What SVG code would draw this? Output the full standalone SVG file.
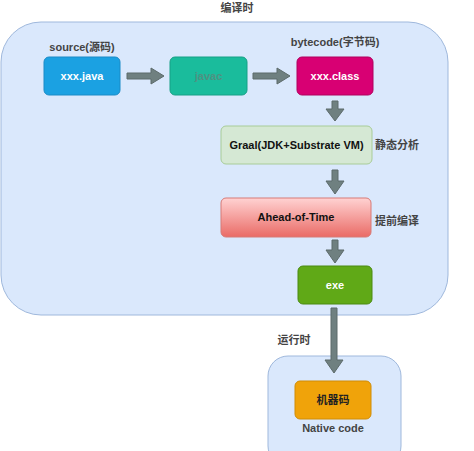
<svg xmlns="http://www.w3.org/2000/svg" width="474" height="451" viewBox="0 0 474 451">
<defs>
<linearGradient id="red" x1="0" y1="0" x2="0" y2="1">
<stop offset="0" stop-color="#ffd2d2"/>
<stop offset="1" stop-color="#ea6b66"/>
</linearGradient>
<style>
text{font-family:"Liberation Sans",Arial,"Noto Sans CJK SC",sans-serif;font-weight:bold;text-anchor:middle}
.lbl{font-size:11px;fill:#444}
.node{font-size:11px}
.arr{fill:#6f8080;stroke:#5d6b6b;stroke-width:1}
</style>
</defs>
<rect x="0" y="0" width="474" height="451" fill="#ffffff"/>
<g id="compile-container">
<rect x="1" y="22" width="447" height="293" rx="40" ry="40" fill="#dae8fc" stroke="#9fb8dc" stroke-width="1"/>
<text class="lbl" x="237" y="12">编译时</text>
</g>
<g id="run-container">
<rect x="268" y="356" width="133" height="110" rx="20" ry="20" fill="#dae8fc" stroke="#9fb8dc" stroke-width="1"/>
<text class="lbl" x="333" y="432" fill="#555">Native code</text>
</g>
<g id="connectors">
<path class="arr" d="M127,73 H151 V68 L164,76 L151,84 V79 H127 Z"/>
<path class="arr" d="M253,73 H277 V68 L290,76 L277,84 V79 H253 Z"/>
<path class="arr" d="M332,101 V109 H326 L335,121 L344,109 H338 V101 Z"/>
<path class="arr" d="M332,170 V181 H326 L335,194 L344,181 H338 V170 Z"/>
<path class="arr" d="M332,240 V250 H326 L335,263 L344,250 H338 V240 Z"/>
<path class="arr" d="M331,308 V360 H325 L334,373 L343,360 H337 V308 Z"/>
<text class="lbl" x="294" y="344">运行时</text>
</g>
<g id="xxx-java">
<text class="lbl" x="82" y="51">source(源码)</text>
<rect x="44" y="57" width="76" height="38" rx="5" fill="#1ba1e2" stroke="#1a8bc7"/>
<text class="node" x="82" y="80" fill="#ffffff">xxx.java</text>
</g>
<g id="javac">
<rect x="170" y="57" width="77" height="38" rx="5" fill="#1abc9c" stroke="#17a086"/>
<text class="node" x="208.5" y="80" fill="#4f9182">javac</text>
</g>
<g id="xxx-class">
<text class="lbl" x="335" y="46">bytecode(字节码)</text>
<rect x="297" y="57" width="76" height="38" rx="5" fill="#d80073" stroke="#b0005e"/>
<text class="node" x="335" y="80" fill="#ffffff">xxx.class</text>
</g>
<g id="graal">
<rect x="221" y="126" width="151" height="38" rx="5" fill="#d5e8d4" stroke="#a8cc98"/>
<text class="node" x="296.5" y="149" fill="#111">Graal(JDK+Substrate VM)</text>
<text class="lbl" x="397" y="149" fill="#333">静态分析</text>
</g>
<g id="aot">
<rect x="221" y="198" width="150" height="39" rx="5" fill="url(#red)" stroke="#d77a76"/>
<text class="node" x="296" y="221" fill="#111">Ahead-of-Time</text>
<text class="lbl" x="397" y="225" fill="#333">提前编译</text>
</g>
<g id="exe">
<rect x="298" y="266" width="74" height="38" rx="5" fill="#60a917" stroke="#4a8a10"/>
<text class="node" x="335" y="289" fill="#ffffff">exe</text>
</g>
<g id="machine-code">
<rect x="295" y="381" width="76" height="38" rx="5" fill="#f0a30a" stroke="#d08c06"/>
<text class="node" x="333" y="404" fill="#222">机器码</text>
</g>
</svg>
